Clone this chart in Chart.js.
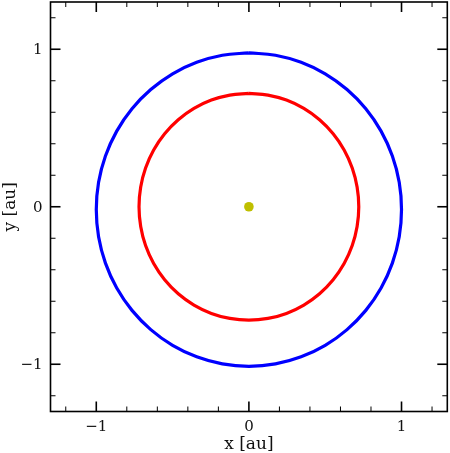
<!DOCTYPE html>
<html>
<head>
<meta charset="utf-8">
<script src="https://cdn.jsdelivr.net/npm/chart.js@4.4.1/dist/chart.umd.min.js"></script>
<style>
html,body{margin:0;padding:0;background:#fff;}
#wrap{width:450px;height:453px;}
</style>
</head>
<body>
<div id="wrap"><canvas id="c" width="450" height="453"></canvas></div>
<script>
// Earth orbit (blue)
const earthX = [0, 0.174, 0.342, 0.5, 0.643, 0.766, 0.866, 0.940, 0.985, 1.0, 0.985, 0.940, 0.866, 0.766, 0.643, 0.5, 0.342, 0.174, 0, -0.174, -0.342, -0.5, -0.643, -0.766, -0.866, -0.940, -0.985, -1.0, -0.985, -0.940, -0.866, -0.766, -0.643, -0.5, -0.342, -0.174, 0];
const earthY = [0.977, 0.962, 0.917, 0.844, 0.744, 0.622, 0.480, 0.322, 0.155, -0.018, -0.191, -0.358, -0.516, -0.658, -0.780, -0.880, -0.953, -0.998, -1.013, -0.998, -0.953, -0.880, -0.780, -0.658, -0.516, -0.358, -0.191, -0.018, 0.155, 0.322, 0.480, 0.622, 0.744, 0.844, 0.917, 0.962, 0.977];
// Venus orbit (red)
const venusX = [0, 0.125, 0.246, 0.36, 0.463, 0.552, 0.624, 0.677, 0.709, 0.72, 0.709, 0.677, 0.624, 0.552, 0.463, 0.36, 0.246, 0.125, 0, -0.125, -0.246, -0.36, -0.463, -0.552, -0.624, -0.677, -0.709, -0.72, -0.709, -0.677, -0.624, -0.552, -0.463, -0.36, -0.246, -0.125, 0];
const venusY = [0.72, 0.709, 0.677, 0.624, 0.552, 0.463, 0.36, 0.246, 0.125, 0, -0.125, -0.246, -0.36, -0.463, -0.552, -0.624, -0.677, -0.709, -0.72, -0.709, -0.677, -0.624, -0.552, -0.463, -0.36, -0.246, -0.125, 0, 0.125, 0.246, 0.36, 0.463, 0.552, 0.624, 0.677, 0.709, 0.72];
// Sun
const sunX = [0];
const sunY = [0];
// ticks
const majorTicks = [-1, 0, 1];
const minorTicks = [-1.2, -0.8, -0.6, -0.4, -0.2, 0.2, 0.4, 0.6, 0.8, 1.2];
const axisMin = -1.3, axisMax = 1.3;
const xTitle = 'x [au]';
const yTitle = 'y [au]';

const pts = (xs, ys) => xs.map((v, i) => ({x: v, y: ys[i]}));
const fmt = v => (v < 0 ? '\u2212' + Math.abs(v) : String(v));

const framePlugin = {
  id: 'frameTicks',
  afterDraw(chart) {
    const {ctx, chartArea: a, scales: {x, y}} = chart;
    ctx.save();
    ctx.strokeStyle = '#000';
    const seg = (x1, y1, x2, y2) => { ctx.beginPath(); ctx.moveTo(x1, y1); ctx.lineTo(x2, y2); ctx.stroke(); };
    ctx.lineWidth = 1;
    minorTicks.forEach(v => {
      const px = x.getPixelForValue(v);
      seg(px, a.bottom, px, a.bottom - 5);
      seg(px, a.top, px, a.top + 5);
      const py = y.getPixelForValue(v);
      seg(a.left, py, a.left + 5, py);
      seg(a.right, py, a.right - 5, py);
    });
    ctx.lineWidth = 1.6;
    majorTicks.forEach(v => {
      const px = x.getPixelForValue(v);
      seg(px, a.bottom, px, a.bottom - 10);
      seg(px, a.top, px, a.top + 10);
      const py = y.getPixelForValue(v);
      seg(a.left, py, a.left + 10, py);
      seg(a.right, py, a.right - 10, py);
    });
    ctx.lineWidth = 1.6;
    ctx.strokeRect(a.left, a.top, a.right - a.left, a.bottom - a.top);
    // tick labels (real text, placed through the scales)
    ctx.fillStyle = '#111';
    ctx.font = '15px "DejaVu Serif"';
    ctx.textBaseline = 'alphabetic';
    ctx.textAlign = 'center';
    majorTicks.forEach(v => {
      ctx.fillText(fmt(v), x.getPixelForValue(v), a.bottom + 19);
    });
    ctx.textAlign = 'right';
    majorTicks.forEach(v => {
      ctx.fillText(fmt(v), a.left - 8, y.getPixelForValue(v) + 5);
    });
    ctx.restore();
  }
};

const titleFont = {family: 'DejaVu Serif', size: 17};

new Chart(document.getElementById('c'), {
  type: 'scatter',
  data: {
    datasets: [
      {label: 'Sun', data: pts(sunX, sunY), pointRadius: 4.8, pointBackgroundColor: '#bfbf00', pointBorderWidth: 0, showLine: false},
      {label: 'Venus', data: pts(venusX, venusY), showLine: true, borderColor: '#ff0000', borderWidth: 3.2, pointRadius: 0, tension: 0.4, fill: false},
      {label: 'Earth', data: pts(earthX, earthY), showLine: true, borderColor: '#0000ff', borderWidth: 3.2, pointRadius: 0, tension: 0.4, fill: false}
    ]
  },
  options: {
    responsive: false,
    animation: false,
    devicePixelRatio: 1,
    layout: {autoPadding: false, padding: {top: 2, right: 2.7, left: 0, bottom: 0}},
    plugins: {legend: {display: false}, tooltip: {enabled: false}},
    scales: {
      x: {
        type: 'linear', min: axisMin, max: axisMax,
        afterBuildTicks: s => { s.ticks = majorTicks.map(v => ({value: v})); },
        afterFit: s => { s.height = 41.5; s.paddingLeft = 0; s.paddingRight = 0; },
        grid: {display: false, drawTicks: false},
        border: {display: false},
        ticks: {display: false},
        title: {display: true, text: xTitle, font: titleFont, color: '#111', padding: {top: 0, bottom: -2}}
      },
      y: {
        type: 'linear', min: axisMin, max: axisMax,
        afterBuildTicks: s => { s.ticks = majorTicks.map(v => ({value: v})); },
        afterFit: s => { s.width = 50.5; s.paddingTop = 0; s.paddingBottom = 0; },
        grid: {display: false, drawTicks: false},
        border: {display: false},
        ticks: {display: false},
        title: {display: true, text: yTitle, font: titleFont, color: '#111', padding: {top: 0, bottom: 0}}
      }
    }
  },
  plugins: [framePlugin]
});
</script>
</body>
</html>
